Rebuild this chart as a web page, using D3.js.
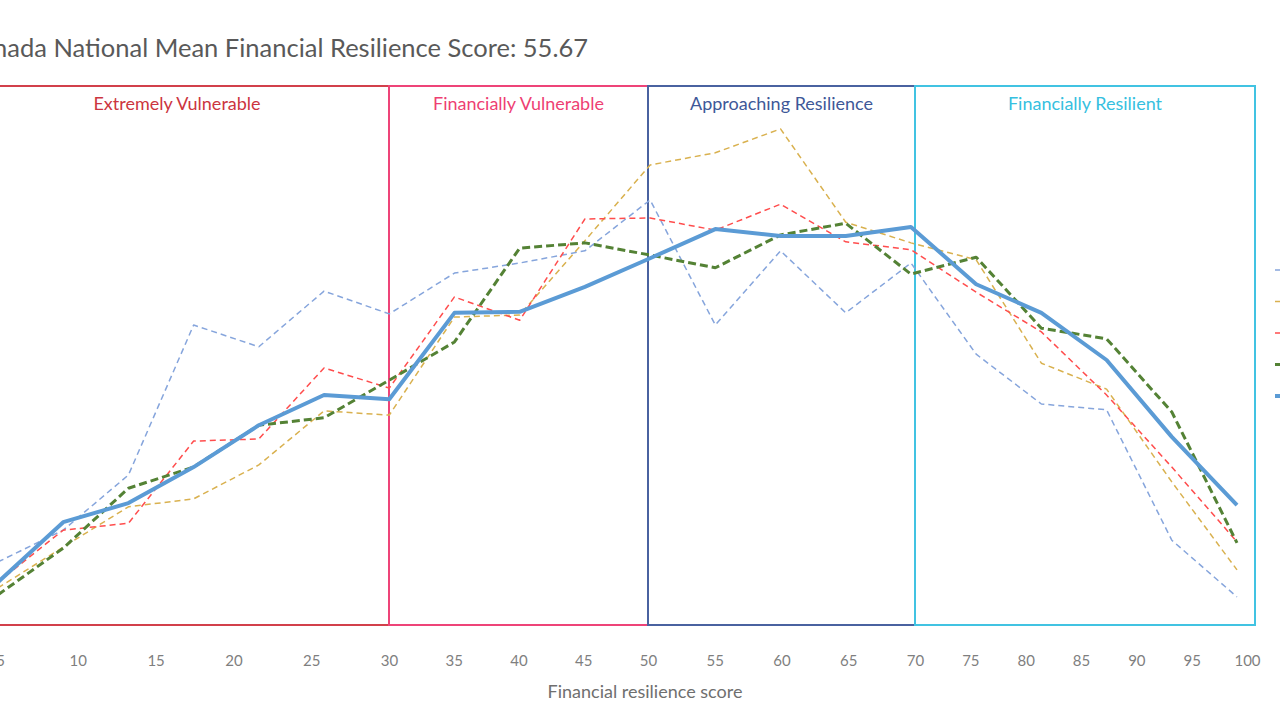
<!DOCTYPE html>
<html>
<head>
<meta charset="utf-8">
<script src="https://cdn.jsdelivr.net/npm/d3@7"></script>
<style>
  body { margin: 0; background: #fff; }
  svg { display: block; font-family: Lato, "Open Sans", sans-serif; }
</style>
</head>
<body>
<div class="chart"></div>
<script>
// score labels shown under the chart
var scoreTicks = [5, 10, 15, 20, 25, 30, 35, 40, 45, 50, 55, 60, 65, 70, 75, 80, 85, 90, 95, 100];
// the 20 buckets the series are plotted on
var buckets = [1, 2, 3, 4, 5, 6, 7, 8, 9, 10, 11, 12, 13, 14, 15, 16, 17, 18, 19, 20];

// share of population per bucket (%)
var seriesA = [1.19, 1.79, 2.83, 5.66, 5.25, 6.30, 5.87, 6.64, 6.83, 7.06, 8.02, 5.66, 7.06, 5.89, 6.83, 5.11, 4.17, 4.06, 1.60, 0.53];
var seriesB = [0.70, 1.47, 2.23, 2.38, 3.02, 4.04, 3.96, 5.81, 5.85, 7.25, 8.68, 8.91, 9.36, 7.60, 7.21, 6.89, 4.94, 4.45, 2.70, 1.04];
var seriesC = [0.81, 1.79, 1.92, 3.47, 3.51, 4.85, 4.47, 6.19, 5.75, 7.66, 7.68, 7.45, 7.94, 7.23, 7.08, 6.28, 5.53, 4.34, 2.98, 1.57];
var seriesD = [0.57, 1.45, 2.58, 2.98, 3.77, 3.91, 4.62, 5.34, 7.11, 7.21, 6.98, 6.74, 7.36, 7.58, 6.62, 6.94, 5.60, 5.40, 4.02, 1.55];
var seriesE = [0.81, 1.94, 2.30, 2.98, 3.77, 4.34, 4.26, 5.89, 5.91, 6.38, 6.92, 7.47, 7.34, 7.34, 7.51, 6.43, 5.89, 5.00, 3.55, 2.26];

// resilience bands
var regionNames = ["Extremely Vulnerable", "Financially Vulnerable", "Approaching Resilience", "Financially Resilient"];
var regionBreaks = [0, 30, 50, 70, 100];

var title = "Canada National Mean Financial Resilience Score: 55.67";
var xTitle = "Financial resilience score";

var width = 1280, height = 720;
var plotTop = 86, plotBottom = 625, plotRight = 1255;

var svg = d3.select(".chart")
    .append("svg")
    .attr("width", width)
    .attr("height", height);

// axis labels are placed on a piecewise scale, the lines on an even point scale
var xScore = d3.scaleLinear()
    .domain([0, 5, 30, 50, 70, 100])
    .range([-35, 0, 389, 648, 915, 1247]);

var x = d3.scalePoint()
    .domain(buckets)
    .range([-2, 1237]);

var y = d3.scaleLinear()
    .domain([0, 10])
    .range([plotBottom, 95]);

// title (the frame cuts its first letters, as in the source)
svg.append("text")
    .attr("x", 588)
    .attr("y", 57)
    .attr("text-anchor", "end")
    .style("font-size", "25.5px")
    .style("fill", "#595959")
    .text(title);

// region boxes
var regionColors = ["#d2404b", "#ee4478", "#4a62a0", "#41c3e2"];
var textColors = ["#cc3540", "#ee3f73", "#3e5898", "#36bfe0"];
var regions = regionNames.map(function (name, i) {
    var x0 = i == 0 ? -40 : xScore(regionBreaks[i]);
    var x1 = i == regionNames.length - 1 ? plotRight : xScore(regionBreaks[i + 1]);
    return { name: name, x0: x0, x1: x1, color: regionColors[i], text: textColors[i] };
});

svg.selectAll("rect.region")
    .data(regions)
    .enter()
    .append("rect")
    .attr("class", "region")
    .attr("x", function (d) { return d.x0; })
    .attr("y", plotTop)
    .attr("width", function (d) { return d.x1 - d.x0; })
    .attr("height", plotBottom - plotTop)
    .style("fill", "none")
    .style("stroke", function (d) { return d.color; })
    .style("stroke-width", 2);

svg.selectAll("text.region")
    .data(regions)
    .enter()
    .append("text")
    .attr("class", "region")
    .attr("x", function (d) { return (Math.max(d.x0, -35) + d.x1) / 2; })
    .attr("y", 110)
    .attr("text-anchor", "middle")
    .style("font-size", "18px")
    .style("fill", function (d) { return d.text; })
    .text(function (d) { return d.name; });

// x axis (labels only)
var xAxis = svg.append("g")
    .attr("transform", "translate(0," + plotBottom + ")")
    .call(d3.axisBottom(xScore).tickValues(scoreTicks).tickSize(0).tickPadding(30));
xAxis.select(".domain").remove();
xAxis.selectAll("text")
    .style("font-family", "Lato, sans-serif")
    .style("font-size", "15px")
    .style("fill", "#7f7f7f");

svg.append("text")
    .attr("x", 645)
    .attr("y", 698)
    .attr("text-anchor", "middle")
    .style("font-size", "18px")
    .style("fill", "#6f6f6f")
    .text(xTitle);

// series
var series = [
    { values: seriesA, color: "#86a5dc", width: 1.5, dash: "6,4" },
    { values: seriesB, color: "#d9b14f", width: 1.5, dash: "6,4" },
    { values: seriesC, color: "#ff4d4d", width: 1.5, dash: "6,4" },
    { values: seriesD, color: "#548235", width: 3, dash: "8,4" },
    { values: seriesE, color: "#5b9bd5", width: 4, dash: null }
];

var line = d3.line()
    .x(function (d, i) { return x(buckets[i]); })
    .y(function (d) { return y(d); });

svg.selectAll("path.series")
    .data(series)
    .enter()
    .append("path")
    .attr("class", "series")
    .attr("d", function (d) { return line(d.values); })
    .style("fill", "none")
    .style("stroke", function (d) { return d.color; })
    .style("stroke-width", function (d) { return d.width; })
    .style("stroke-dasharray", function (d) { return d.dash; })
    .style("stroke-linejoin", "round");

// legend swatches (labels fall outside the frame)
svg.selectAll("line.legend")
    .data(series)
    .enter()
    .append("line")
    .attr("class", "legend")
    .attr("x1", 1275)
    .attr("x2", 1300)
    .attr("y1", function (d, i) { return 270 + i * 31.5; })
    .attr("y2", function (d, i) { return 270 + i * 31.5; })
    .style("stroke", function (d) { return d.color; })
    .style("stroke-width", function (d) { return d.width; })
    .style("stroke-dasharray", function (d) { return d.dash; });
</script>
</body>
</html>
